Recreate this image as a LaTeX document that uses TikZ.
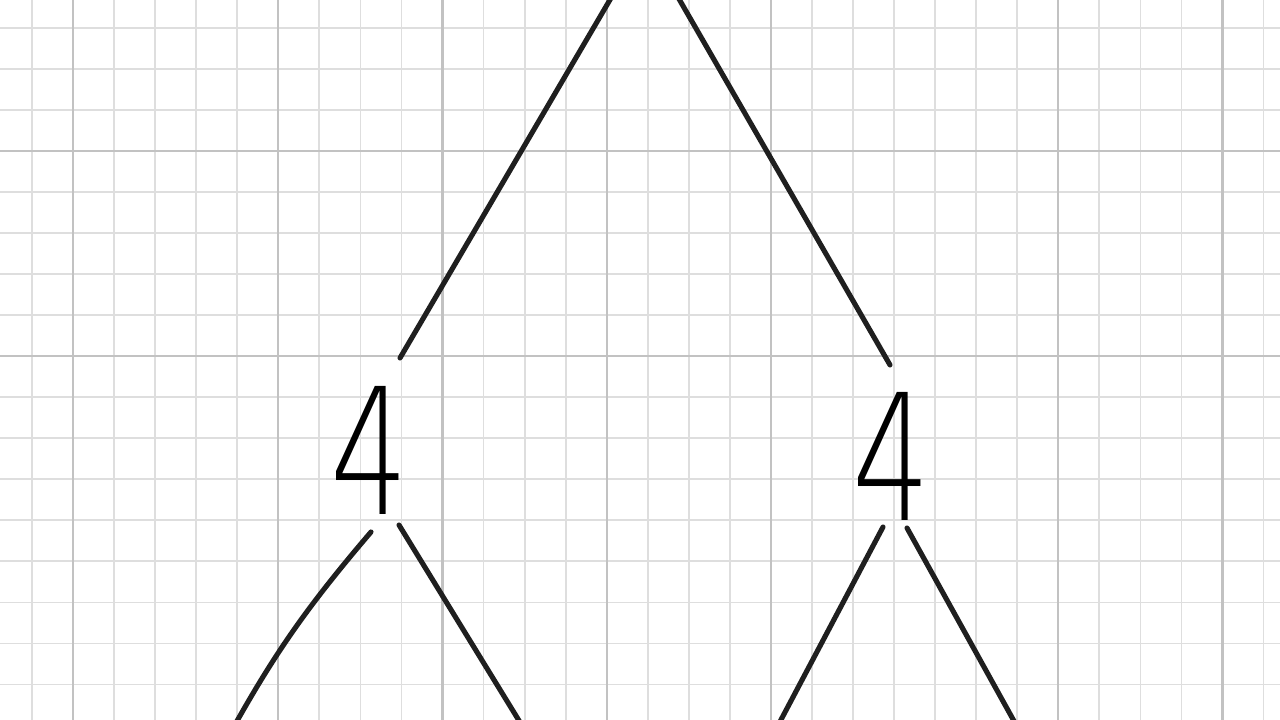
\documentclass[tikz,border=0pt]{standalone}
\usepackage{fontspec}
\newfontfamily\thinsans{DejaVu Sans ExtraLight}
\begin{document}
\begin{tikzpicture}[
	minor/.style={draw=black!13,line width=0.5pt},
	major/.style={draw=black!24,line width=0.6pt},
	branch/.style={draw=black!88,line width=1.45pt,line cap=round},
	digit/.style={font=\fontsize{50}{50}\thinsans,inner sep=0pt,xscale=0.7}]
			\useasboundingbox (0,0) rectangle (12.8,7.2);
			\clip (0,0) rectangle (12.8,7.2);
			\fill[white] (0,0) rectangle (12.8,7.2);
			%%% grid paper
			\foreach \k in {0,...,30} \draw[minor] ({0.32+\k*0.4105},0)--++(0,7.2);
			\foreach \k in {0,...,16} \draw[minor] (0,{6.923-\k*0.4105})--++(12.8,0);
			\foreach \k in {1,6,10,14,18,25,29} \draw[major] ({0.32+\k*0.4105},0)--++(0,7.2);
			\foreach \k in {3,8} \draw[major] (0,{6.923-\k*0.4105})--++(12.8,0);
			%%% factors
			\path (3.70,2.70) node[digit] (lfour) {4};
			\path (8.92,2.64) node[digit] (rfour) {4};
			\coordinate (root) at (6.45,7.80);
			\coordinate (leafa) at (2.21,-0.3);
			\coordinate (leafb) at (5.37,-0.3);
			\coordinate (leafc) at (7.65,-0.3);
			\coordinate (leafd) at (10.30,-0.3);
			%%% branches
			\draw[branch] (root)--([shift={(0.30,0.92)}]lfour.center);
			\draw[branch] (root)--([shift={(-0.02,0.91)}]rfour.center);
			\draw[branch] ([shift={(0.01,-0.82)}]lfour.center) to[bend right=6] (leafa);
			\draw[branch] ([shift={(0.29,-0.75)}]lfour.center)--(leafb);
			\draw[branch] ([shift={(-0.09,-0.71)}]rfour.center)--(leafc);
			\draw[branch] ([shift={(0.15,-0.72)}]rfour.center)--(leafd);
		\end{tikzpicture}
\end{document}
